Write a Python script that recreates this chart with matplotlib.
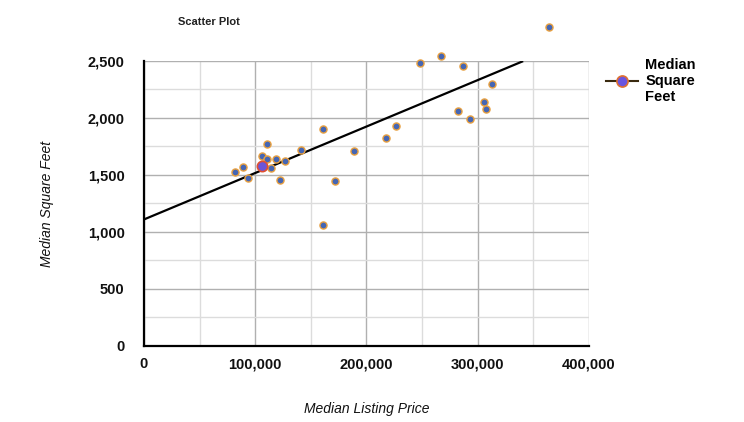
import matplotlib
matplotlib.use("Agg")
import matplotlib.pyplot as plt
from matplotlib.ticker import MultipleLocator, FuncFormatter
from matplotlib.lines import Line2D

plt.rcParams['font.family'] = ['Liberation Sans', 'DejaVu Sans']

price = [81800, 89000, 93500, 106500, 111000, 111000, 118400, 114600, 127200,
         122700, 141200, 160700, 171500, 188800, 160700, 218000, 226300,
         247900, 267400, 286900, 282400, 293200, 306100, 307300, 312700, 363700]
sqft = [1524, 1573, 1471, 1669, 1772, 1638, 1638, 1559, 1626,
        1456, 1719, 1901, 1447, 1711, 1059, 1827, 1930,
        2480, 2541, 2459, 2059, 1991, 2143, 2079, 2298, 2796]
highlight_price = [106500]
highlight_sqft = [1582]
trend_x = [0, 340000]
trend_y = [1110, 2495]

fig = plt.figure(figsize=(7.44, 4.22), dpi=100)
ax = fig.add_axes([0.1935, 0.1801, 0.598, 0.6754])

ax.set_xlim(0, 400000)
ax.set_ylim(0, 2500)
ax.xaxis.set_major_locator(MultipleLocator(100000))
ax.xaxis.set_minor_locator(MultipleLocator(50000))
ax.yaxis.set_major_locator(MultipleLocator(500))
ax.yaxis.set_minor_locator(MultipleLocator(250))
fmt = FuncFormatter(lambda v, p: f"{int(v):,}")
ax.xaxis.set_major_formatter(fmt)
ax.yaxis.set_major_formatter(fmt)

ax.grid(which='major', color='#b0b0b0', linewidth=1.0)
ax.grid(which='minor', color='#dcdcdc', linewidth=1.0)
ax.set_axisbelow(True)
for s in ['top', 'right']:
    ax.spines[s].set_visible(False)
for s in ['left', 'bottom']:
    ax.spines[s].set_linewidth(1.6)
    ax.spines[s].set_color('black')
ax.tick_params(which='both', length=0)
ax.tick_params(axis='x', pad=8, labelsize=10.5)
ax.tick_params(axis='y', pad=14, labelsize=10.5)
for lab in ax.get_xticklabels() + ax.get_yticklabels():
    lab.set_fontweight('bold')
    lab.set_color('#111111')

ax.plot(trend_x, trend_y, color='black', linewidth=1.6, zorder=3)
ax.scatter(price, sqft, s=26, facecolor='#4566b4', edgecolor='#e8a040',
           linewidth=1.0, zorder=4, clip_on=False)
ax.scatter(highlight_price, highlight_sqft, s=55, facecolor='#6a55d8',
           edgecolor='#e05030', linewidth=1.2, zorder=5, clip_on=False)

ax.set_xlabel('Median Listing Price', fontsize=10, fontstyle='italic',
              labelpad=22, color='#111111')
ax.set_ylabel('Median Square Feet', fontsize=10, fontstyle='italic',
              labelpad=24, color='#111111')

fig.text(178/744, 1 - 22/422, 'Scatter Plot', fontsize=8, fontweight='bold',
         ha='left', va='center', color='#222222')

handle = Line2D([0], [0], color='#3a2a10', linewidth=1.5, marker='o',
                markersize=8, markerfacecolor='#6a55e0',
                markeredgecolor='#e07030', markeredgewidth=1.2)
fig.legend([handle], ['Median\nSquare\nFeet'], loc='upper left',
           bbox_to_anchor=(600/744, 1 - 52/422), frameon=False,
           prop={'weight': 'bold', 'size': 10.5}, handlelength=2.2,
           handletextpad=0.5, borderaxespad=0)

fig.savefig('out.png', dpi=100)
